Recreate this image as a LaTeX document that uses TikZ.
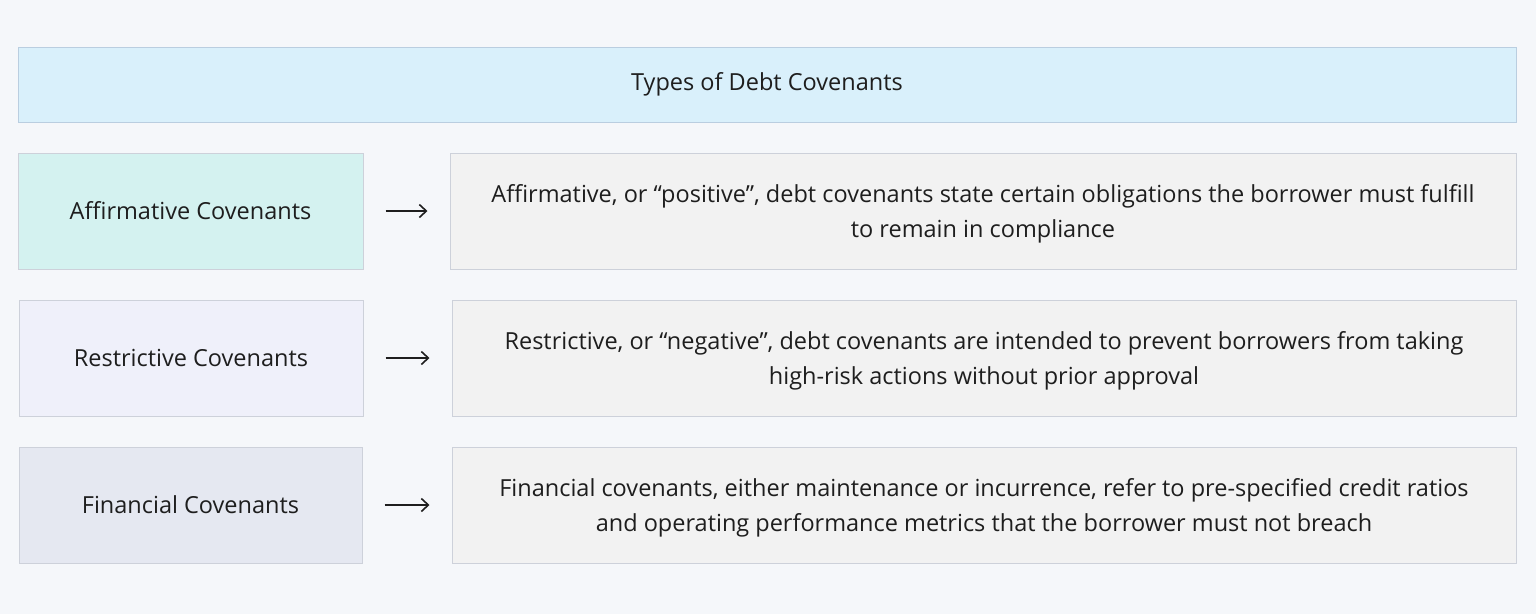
\documentclass[tikz,border=0pt]{standalone}
\usepackage{fontspec}
\setmainfont{Open Sans}
\usepackage{tikz}
\usetikzlibrary{arrows.meta}
\definecolor{pagegray}{RGB}{245,247,250}
\definecolor{titleblue}{RGB}{217,240,251}
\definecolor{titleline}{RGB}{186,206,224}
\definecolor{mintgreen}{RGB}{212,242,240}
\definecolor{lavender}{RGB}{239,240,250}
\definecolor{slategray}{RGB}{229,232,241}
\definecolor{notegray}{RGB}{242,242,242}
\definecolor{boxline}{RGB}{205,209,218}
\definecolor{inkblack}{RGB}{30,30,30}
\tikzset{
  box/.style={draw=boxline, line width=1pt, rectangle, inner sep=0pt,
    minimum height=116pt, text=inkblack, align=center,
    font=\fontsize{23.5}{35}\selectfont},
  note/.style={box, fill=notegray, text depth=0pt},
  link/.style={-{Straight Barb[length=7pt,width=13pt]}, line width=1.6pt, inkblack,
    shorten <=22pt, shorten >=22pt}
}
\begin{document}
\begin{tikzpicture}[x=1pt,y=-1pt]
        \useasboundingbox[fill=pagegray] (0,0) rectangle (1536,614);

        \node[box, fill=titleblue, draw=titleline, minimum width=1498pt, minimum height=75pt] (title) at (767,84.5) {Types of Debt Covenants} ;

        \node[box, fill=mintgreen, minimum width=345pt] (aff) at (190.5,211) {Affirmative Covenants} ;
        \node[box, fill=lavender, minimum width=344pt] (res) at (191,358) {Restrictive Covenants} ;
        \node[box, fill=slategray, minimum width=343pt] (fin) at (190.5,505) {Financial Covenants} ;

        \node[note, minimum width=1066pt] (affnote) at (983,211) {Affirmative, or “positive”, debt covenants state certain obligations the borrower must fulfill\\to remain in compliance} ;
        \node[note, minimum width=1064pt] (resnote) at (984,358) {Restrictive, or “negative”, debt covenants are intended to prevent borrowers from taking\\high-risk actions without prior approval} ;
        \node[note, minimum width=1064pt] (finnote) at (984,505) {Financial covenants, either maintenance or incurrence, refer to pre-specified credit ratios\\and operating performance metrics that the borrower must not breach} ;

        \draw[link] (aff) -- (affnote);
        \draw[link] (res) -- (resnote);
        \draw[link] (fin) -- (finnote);

    \end{tikzpicture}
\end{document}
